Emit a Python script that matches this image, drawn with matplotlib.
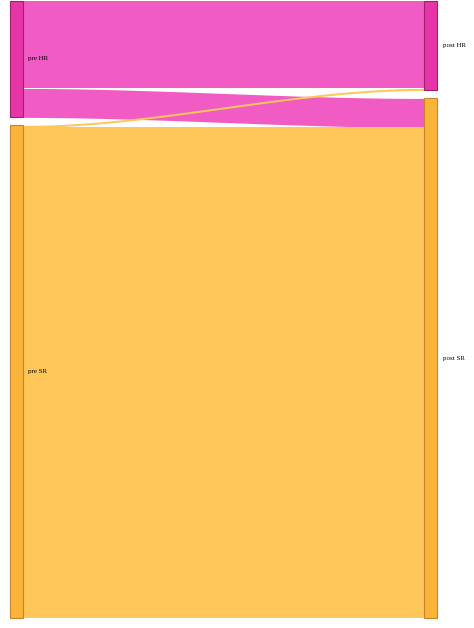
import numpy as np
import matplotlib
matplotlib.use("Agg")
import matplotlib.pyplot as plt

left_nodes = ["pre HR", "pre SR"]
right_nodes = ["post HR", "post SR"]
# flows: (source, target, value)
sources = ["pre HR", "pre HR", "pre SR", "pre SR"]
targets = ["post HR", "post SR", "post HR", "post SR"]
values = [88, 29, 2, 491]

node_fill = {"HR": "#E535A6", "SR": "#FBB43A"}
node_edge = {"HR": "#A0206F", "SR": "#C8862A"}
link_col = {"HR": "#F05CC4", "SR": "#FFC65A"}

W, H = 474, 628
fig = plt.figure(figsize=(W/100, H/100), dpi=100)
ax = fig.add_axes([0, 0, 1, 1])
ax.set_xlim(0, W); ax.set_ylim(H, 0); ax.axis("off")

top, bottom, gap = 0.5, 618, 8
total = sum(values)
scale = (bottom - top - gap) / total

def layout(nodes, key):
    pos = {}; y = top
    for n in nodes:
        v = sum(val for s, t, val in zip(sources, targets, values) if (s if key == 0 else t) == n)
        pos[n] = [y, y + v*scale]
        y += v*scale + gap
    return pos

lp = layout(left_nodes, 0); rp = layout(right_nodes, 1)
lx0, lx1, rx0, rx1 = 10, 23, 424, 437
lcur = {n: lp[n][0] for n in left_nodes}
rcur = {n: rp[n][0] for n in right_nodes}
xs = np.linspace(lx1, rx0, 200)
tt = (xs - lx1) / (rx0 - lx1)
sm = 3*tt**2 - 2*tt**3
for s, t, v in zip(sources, targets, values):
    h = v*scale
    y0s, y0t = lcur[s], rcur[t]
    lcur[s] += h; rcur[t] += h
    yt = y0s + (y0t - y0s)*sm
    ax.fill_between(xs, yt, yt + h, color=link_col[s.split()[1]], alpha=1, lw=0, zorder=1 if s == "pre HR" else 2)

for pos, x0, x1 in [(lp, lx0, lx1), (rp, rx0, rx1)]:
    for n, (a, b) in pos.items():
        k = n.split()[1]
        ax.add_patch(plt.Rectangle((x0, a), x1-x0, b-a, facecolor=node_fill[k], edgecolor=node_edge[k], lw=0.8, zorder=3))
for n, (a, b) in lp.items():
    ax.text(28, (a+b)/2, n, fontsize=5, family="Liberation Serif", va="center", ha="left", zorder=4)
for n, (a, b) in rp.items():
    ax.text(443, (a+b)/2, n, fontsize=5, family="Liberation Serif", va="center", ha="left", zorder=4)

fig.savefig("out.png", dpi=100)
